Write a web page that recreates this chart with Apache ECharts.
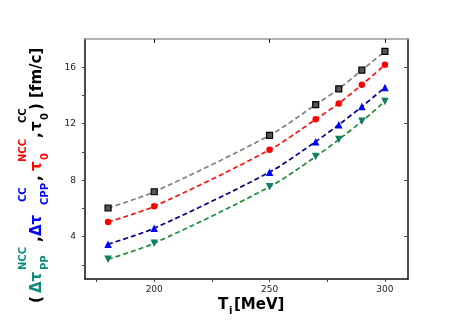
<!DOCTYPE html>
<html><head><meta charset="utf-8">
<script src="https://cdn.jsdelivr.net/npm/echarts@6/dist/echarts.min.js"></script>
<style>html,body{margin:0;padding:0;background:#fff}#c{width:474px;height:335px}</style>
</head><body><div id="c"></div>
<script>
const temperatures = [180, 200, 250, 270, 280, 290, 300];
const tau0CC = [6.03, 7.18, 11.18, 13.35, 14.47, 15.79, 17.13];
const tau0NCC = [5.04, 6.15, 10.15, 12.31, 13.44, 14.76, 16.17];
const dTauCPP_CC = [3.47, 4.6, 8.57, 10.73, 11.93, 13.21, 14.57];
const dTauPP_NCC = [2.4, 3.54, 7.53, 9.67, 10.88, 12.17, 13.58];
const xLabelTicks = [200, 250, 300];
const xMinorTicks = [175, 200, 225, 250, 275, 300];
const yLabelTicks = [4, 8, 12, 16];
const yMinorTicks = [2, 4, 6, 8, 10, 12, 14, 16];

const chart = echarts.init(document.getElementById('c'));
const FONT = '"DejaVu Sans", Verdana, sans-serif';
function pairs(arr){ return temperatures.map((t,i)=>[t, arr[i]]); }
function ser(name, arr, sym, size, col, lineCol, rot){
  return {
    name, type:'line', data: pairs(arr), smooth: 0.3,
    symbol: sym, symbolSize: size, symbolRotate: rot || 0,
    itemStyle: {color: col, borderColor: sym==='rect' ? '#000' : col, borderWidth: sym==='rect'?1.2:0},
    lineStyle: {color: lineCol, width: 1.7, type: [5, 3]},
    emphasis: {disabled: true}, z: 3
  };
}
const titleMain = 'bold 15px ' + FONT;
const titleSmall = 'bold 10px ' + FONT;
function t(x, y, text, fill, font){
  return {type:'text', x, y, style:{text, fill, font, textAlign:'left', textVerticalAlign:'middle'}};
}
const TEAL = '#0f8a7c', BLUE = '#0000ff', RED = '#ff0000', BLK = '#000';
const supY = -14, subY = 8;
chart.setOption({
  animation: false,
  grid: {left: 85, right: 66, top: 39, bottom: 56},
  xAxis: [{
    type:'value', min:170, max:310, position:'bottom',
    axisLine:{show:true, lineStyle:{color:'#111', width:1.5}},
    axisTick:{show:true, inside:false, length:3, customValues: xMinorTicks, lineStyle:{color:'#444'}},
    axisLabel:{customValues: xLabelTicks, margin:6, fontSize:9, color:'#222', fontFamily: FONT},
    splitLine:{show:false}
  },{
    type:'value', min:170, max:310, position:'top',
    axisLine:{show:true, lineStyle:{color:'#999', width:1.5}},
    axisTick:{show:true, inside:true, length:4, customValues: xLabelTicks, lineStyle:{color:'#222'}},
    axisLabel:{show:false}, splitLine:{show:false}
  }],
  yAxis: [{
    type:'value', min:1, max:18, position:'left',
    axisLine:{show:true, lineStyle:{color:'#111', width:1.5}},
    axisTick:{show:true, inside:false, length:3, customValues: yMinorTicks, lineStyle:{color:'#444'}},
    axisLabel:{customValues: yLabelTicks, margin:9, fontSize:9, color:'#222', fontFamily: FONT},
    splitLine:{show:false}
  },{
    type:'value', min:1, max:18, position:'right',
    axisLine:{show:true, lineStyle:{color:'#111', width:1.5}},
    axisTick:{show:true, inside:true, length:4, customValues: yLabelTicks, lineStyle:{color:'#444'}},
    axisLabel:{show:false}, splitLine:{show:false}
  }],
  series: [
    ser('tau0CC', tau0CC, 'rect', 6, '#555', '#808080'),
    ser('tau0NCC', tau0NCC, 'circle', 6.5, RED, '#ff1010'),
    ser('dTauCPP_CC', dTauCPP_CC, 'triangle', 7.5, BLUE, '#000080'),
    ser('dTauPP_NCC', dTauPP_NCC, 'triangle', 7.5, '#0e7f62', '#1e8c3a', 180)
  ],
  graphic: [
    {type:'group', x: 37, y: 303, rotation: Math.PI/2, children: [
      t(0, 0, '(', BLK, titleMain),
      t(10, 0, 'Δτ', TEAL, titleMain),
      t(33, supY, 'NCC', TEAL, titleSmall),
      t(33, subY, 'PP', TEAL, titleSmall),
      t(61, 0, ',', BLK, titleMain),
      t(67, 0, 'Δτ', BLUE, titleMain),
      t(101, supY, 'CC', BLUE, titleSmall),
      t(98, subY, 'CPP', BLUE, titleSmall),
      t(122, 0, ',', BLK, titleMain),
      t(132, 0, 'τ', RED, titleMain),
      t(141, supY, 'NCC', RED, titleSmall),
      t(143, subY, '0', RED, titleSmall),
      t(165, 0, ',', BLK, titleMain),
      t(172, 0, 'τ', BLK, titleMain),
      t(180, supY, 'CC', BLK, titleSmall),
      t(183, subY, '0', BLK, titleSmall),
      t(193, 0, ')', BLK, titleMain),
      t(205, 0, '[fm/c]', BLK, titleMain)
    ]},
    {type:'text', x:218, y:305, style:{text:'T', fill:BLK, font: titleMain, textVerticalAlign:'middle'}},
    {type:'text', x:229, y:311, style:{text:'i', fill:BLK, font: titleSmall, textVerticalAlign:'middle'}},
    {type:'text', x:234, y:305, style:{text:'[MeV]', fill:BLK, font: titleMain, textVerticalAlign:'middle'}}
  ]
});
</script></body></html>
